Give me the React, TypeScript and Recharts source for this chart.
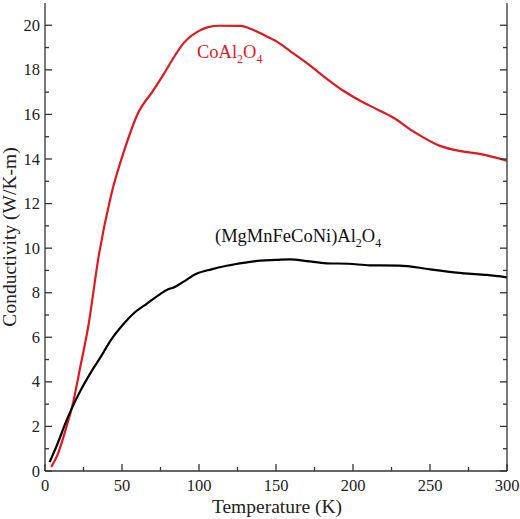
import { LineChart, Line, XAxis, YAxis } from "recharts";

// CoAl2O4 (red)
const coTemps = [4, 8, 14, 18, 23, 28, 35, 43, 52, 60, 70, 77, 84, 90, 100, 106, 113, 127, 135, 144, 152, 160, 172, 183, 194, 205, 215, 226, 240, 256, 270, 283, 300];
const coValues = [0.18, 0.7, 2.0, 3.0, 4.7, 6.45, 9.7, 12.4, 14.5, 16.0, 17.05, 17.8, 18.6, 19.2, 19.75, 19.92, 19.98, 19.97, 19.8, 19.5, 19.2, 18.8, 18.2, 17.6, 17.05, 16.6, 16.25, 15.86, 15.2, 14.6, 14.35, 14.22, 13.92];

// (MgMnFeCoNi)Al2O4 (black)
const heTemps = [3, 8, 14, 18, 23, 30, 36, 43, 51, 58, 66, 75, 80, 84, 90, 98, 108, 118, 130, 140, 150, 159, 170, 183, 197, 211, 230, 250, 272, 287, 300];
const heValues = [0.4, 1.2, 2.27, 2.9, 3.6, 4.45, 5.1, 5.9, 6.6, 7.1, 7.5, 7.95, 8.15, 8.25, 8.5, 8.84, 9.05, 9.21, 9.35, 9.44, 9.47, 9.5, 9.42, 9.32, 9.3, 9.23, 9.22, 9.05, 8.87, 8.8, 8.69];

const xTicks = [0, 25, 50, 75, 100, 125, 150, 175, 200, 225, 250, 275, 300];
const yTicks = [0, 1, 2, 3, 4, 5, 6, 7, 8, 9, 10, 11, 12, 13, 14, 15, 16, 17, 18, 19, 20];

const coData = coTemps.map((t, i) => ({ t, k: coValues[i] }));
const heData = heTemps.map((t, i) => ({ t, k: heValues[i] }));

const FONT = '"Liberation Serif", "Times New Roman", serif';
const AXIS = "#333";
const RED = "#e3171f";
const serif = { fontFamily: FONT };

const BottomTick = ({ x, y, payload }: any) => {
  const major = payload.value % 50 === 0;
  return (
    <g>
      <line x1={x} x2={x} y1={y} y2={y - (major ? 7 : 4)} stroke={AXIS} strokeWidth={1.3} />
      {major && (
        <text x={x} y={y + 20} textAnchor="middle" style={serif} fontSize={16.5} fill="#222">
          {payload.value}
        </text>
      )}
    </g>
  );
};

const TopTick = ({ x, y, payload }: any) => {
  const major = payload.value % 50 === 0;
  return <line x1={x} x2={x} y1={y} y2={y + (major ? 7 : 4)} stroke={AXIS} strokeWidth={1.3} />;
};

const LeftTick = ({ x, y, payload }: any) => {
  const major = payload.value % 2 === 0;
  return (
    <g>
      <line x1={x} x2={x + (major ? 7 : 4)} y1={y} y2={y} stroke={AXIS} strokeWidth={1.3} />
      {major && (
        <text x={x - 5} y={y + 5.5} textAnchor="end" style={serif} fontSize={16.5} fill="#222">
          {payload.value}
        </text>
      )}
    </g>
  );
};

const RightTick = ({ x, y, payload }: any) => {
  const major = payload.value % 2 === 0;
  return <line x1={x} x2={x - (major ? 7 : 4)} y1={y} y2={y} stroke={AXIS} strokeWidth={1.3} />;
};

export default function App() {
  return (
    <div style={{ position: "absolute", left: 0, top: 0, width: 520, height: 519, background: "#fff", fontFamily: FONT }}>
      <LineChart width={520} height={519} margin={{ top: 3, right: 0, bottom: 0, left: 0 }} style={serif}>
        <XAxis
          xAxisId="bottom"
          type="number"
          dataKey="t"
          domain={[0, 300]}
          ticks={xTicks}
          interval={0}
          height={48}
          tickSize={0}
          tickMargin={0}
          tickLine={false}
          tick={BottomTick}
          axisLine={{ stroke: AXIS, strokeWidth: 1.3 }}
          allowDataOverflow
        />
        <XAxis
          xAxisId="top"
          orientation="top"
          type="number"
          dataKey="t"
          domain={[0, 300]}
          ticks={xTicks}
          interval={0}
          height={0}
          tickSize={0}
          tickMargin={0}
          tickLine={false}
          tick={TopTick}
          axisLine={{ stroke: AXIS, strokeWidth: 1.3 }}
          allowDataOverflow
        />
        <YAxis
          yAxisId="left"
          type="number"
          domain={[0, 21]}
          ticks={yTicks}
          interval={0}
          width={45}
          tickSize={0}
          tickMargin={0}
          tickLine={false}
          tick={LeftTick}
          axisLine={{ stroke: AXIS, strokeWidth: 1.3 }}
          allowDataOverflow
        />
        <YAxis
          yAxisId="right"
          orientation="right"
          type="number"
          domain={[0, 21]}
          ticks={yTicks}
          interval={0}
          width={13}
          tickSize={0}
          tickMargin={0}
          tickLine={false}
          tick={RightTick}
          axisLine={{ stroke: AXIS, strokeWidth: 1.3 }}
          allowDataOverflow
        />
        <Line
          xAxisId="bottom"
          yAxisId="left"
          data={coData}
          dataKey="k"
          type="monotone"
          stroke={RED}
          strokeWidth={2.2}
          dot={false}
          activeDot={false}
          isAnimationActive={false}
        />
        <Line
          xAxisId="bottom"
          yAxisId="left"
          data={heData}
          dataKey="k"
          type="monotone"
          stroke="#000"
          strokeWidth={2.2}
          dot={false}
          activeDot={false}
          isAnimationActive={false}
        />
      </LineChart>
      <svg
        width={520}
        height={519}
        style={{ position: "absolute", left: 0, top: 0, pointerEvents: "none", fontFamily: FONT }}
      >
        <text x={197} y={58} fontSize={18.5} fill={RED}>
          CoAl<tspan fontSize={12} dy={5}>2</tspan>
          <tspan dy={-5}>O</tspan>
          <tspan fontSize={12} dy={5}>4</tspan>
        </text>
        <text x={215} y={242} fontSize={18.5} fill="#111">
          (MgMnFeCoNi)Al<tspan fontSize={12} dy={5}>2</tspan>
          <tspan dy={-5}>O</tspan>
          <tspan fontSize={12} dy={5}>4</tspan>
        </text>
        <text x={277} y={513} fontSize={19.5} textAnchor="middle" fill="#222">
          Temperature (K)
        </text>
        <text x={16} y={237} fontSize={19.5} textAnchor="middle" fill="#222" transform="rotate(-90 16 237)">
          Conductivity (W/K-m)
        </text>
      </svg>
    </div>
  );
}
